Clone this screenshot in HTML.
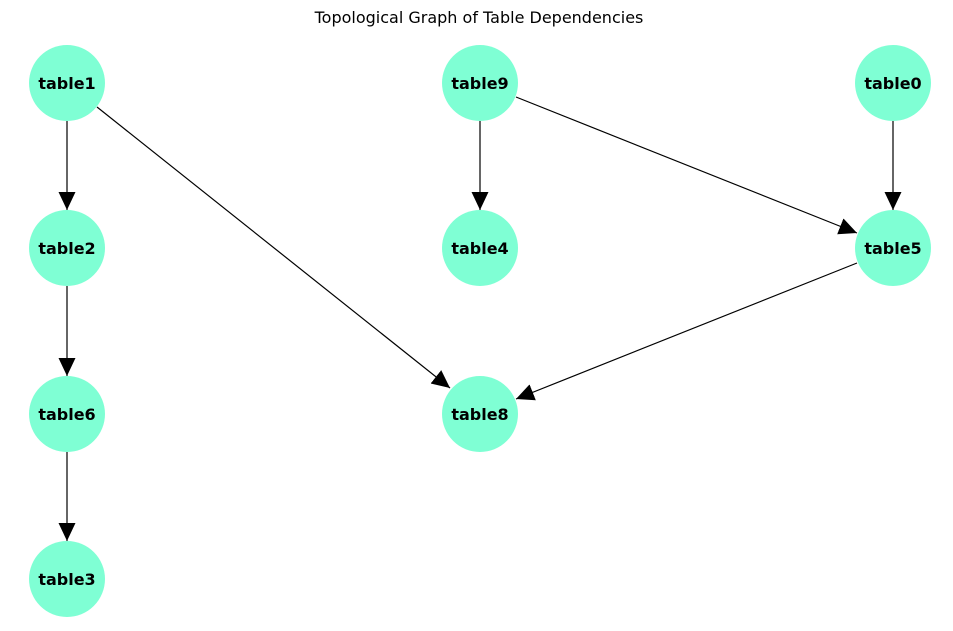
<!DOCTYPE html>
<html><head><meta charset="utf-8"><style>
html,body{margin:0;padding:0;background:#fff;}
svg{display:block;}
text{font-family:"DejaVu Sans","Liberation Sans",sans-serif;}
</style></head><body>
<svg width="953" height="631" viewBox="0 0 953 631" xmlns="http://www.w3.org/2000/svg">
<defs>
<marker id="a" markerUnits="userSpaceOnUse" markerWidth="20" markerHeight="18" refX="18" refY="8.5" orient="auto">
<path d="M0,0 L18,8.5 L0,17 z" fill="#000"/>
</marker>
</defs>
<text x="479" y="23" font-size="16" text-anchor="middle">Topological Graph of Table Dependencies</text>
<g stroke="#000" stroke-width="1.2" marker-end="url(#a)">
<line x1="67" y1="121" x2="67" y2="210"/>
<line x1="67" y1="286" x2="67" y2="376"/>
<line x1="67" y1="452" x2="67" y2="541"/>
<line x1="480" y1="121" x2="480" y2="210"/>
<line x1="893" y1="121" x2="893" y2="210"/>
<line x1="97" y1="107" x2="450" y2="388"/>
<line x1="516" y1="97" x2="857" y2="233"/>
<line x1="857" y1="263" x2="516" y2="399"/>
</g>
<g fill="#7fffd4">
<circle cx="67" cy="83" r="38"/><circle cx="480" cy="83" r="38"/><circle cx="893" cy="83" r="38"/>
<circle cx="67" cy="248" r="38"/><circle cx="480" cy="248" r="38"/><circle cx="893" cy="248" r="38"/>
<circle cx="67" cy="414" r="38"/><circle cx="480" cy="414" r="38"/>
<circle cx="67" cy="579" r="38"/>
</g>
<g font-size="16" font-weight="bold" text-anchor="middle">
<text x="67" y="89">table1</text><text x="480" y="89">table9</text><text x="893" y="89">table0</text>
<text x="67" y="254">table2</text><text x="480" y="254">table4</text><text x="893" y="254">table5</text>
<text x="67" y="420">table6</text><text x="480" y="420">table8</text>
<text x="67" y="585">table3</text>
</g>
</svg>
</body></html>
